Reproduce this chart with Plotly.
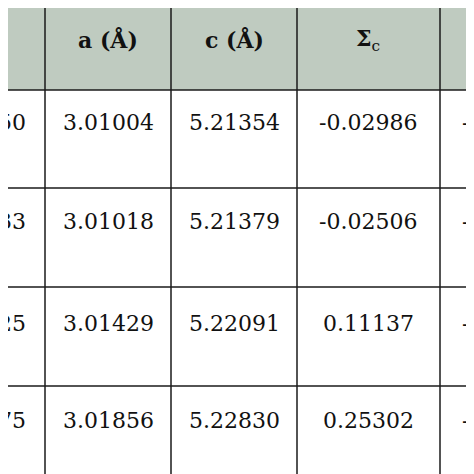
import plotly.graph_objects as go

headers = ["", "a (Å)", "c (Å)", "<b>Σ</b><sub>c</sub>", ""]
col_first = ["50", "33", "25", "75"]
col_a = ["3.01004", "3.01018", "3.01429", "3.01856"]
col_c = ["5.21354", "5.21379", "5.22091", "5.22830"]
col_sigma = ["-0.02986", "-0.02506", "0.11137", "0.25302"]
col_last = ["-7", "-7", "-7", "-7"]

vlines = [45, 171, 297, 440]
hlines = [90, 188, 287, 386]
row_text_y = [122, 221, 323, 420]
col_centers = [108, 234, 368]

fig = go.Figure()
shapes = [dict(type="rect", x0=-20, x1=500, y0=-20, y1=hlines[0], xref="x", yref="y",
               fillcolor="#bfcbc0", line_width=0, layer="below")]
for x in vlines:
    shapes.append(dict(type="line", x0=x, x1=x, y0=-20, y1=500, xref="x", yref="y",
                       line=dict(color="#1a1a1a", width=1.5)))
for y in hlines:
    shapes.append(dict(type="line", x0=-20, x1=500, y0=y, y1=y, xref="x", yref="y",
                       line=dict(color="#1a1a1a", width=1.5)))

font = dict(family="DejaVu Serif", size=22, color="#111")
ann = []
for i, h in enumerate(headers[1:4]):
    txt = h if "<b>" in h else "<b>" + h + "</b>"
    ann.append(dict(x=col_centers[i], y=40, text=txt, showarrow=False, font=font,
                    xref="x", yref="y"))
for cols, cx in zip([col_a, col_c, col_sigma], col_centers):
    for v, y in zip(cols, row_text_y):
        ann.append(dict(x=cx, y=y, text=v, showarrow=False, font=font, xref="x", yref="y"))
for v, y in zip(col_first, row_text_y):
    ann.append(dict(x=28, y=y, text=v, showarrow=False, font=font, xref="x", yref="y",
                    xanchor="right"))
for v, y in zip(col_last, row_text_y):
    ann.append(dict(x=460, y=y, text=v, showarrow=False, font=font, xref="x", yref="y",
                    xanchor="left"))

fig.update_layout(width=474, height=474, margin=dict(l=0, r=0, t=0, b=0),
                  paper_bgcolor="white", plot_bgcolor="white",
                  shapes=shapes, annotations=ann, showlegend=False,
                  xaxis=dict(range=[8, 482], visible=False, fixedrange=True),
                  yaxis=dict(range=[482, 8], visible=False, fixedrange=True))
fig.write_html("out.html")
